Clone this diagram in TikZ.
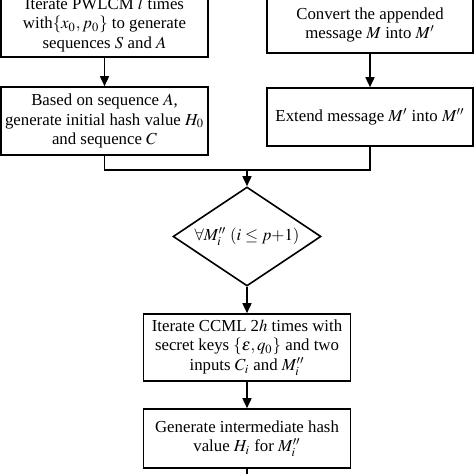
\documentclass[tikz,border=0pt]{standalone}
\usepackage{mathptmx}
\usepackage[no-math]{fontspec}
\setmainfont{Liberation Serif}
\usetikzlibrary{shapes.geometric,arrows.meta}

\begin{document}
\begin{tikzpicture}[x=0.5pt,y=-0.5pt,
  box/.style={draw,line width=0.8pt,align=center,inner sep=0pt,font=\fontsize{8.4}{9.8}\selectfont},
  link/.style={line width=0.8pt},
  arr/.style={link,-{Triangle[length=5pt,width=4.5pt]}}]

\useasboundingbox (0,0) rectangle (474,474);
\clip (0,0) rectangle (474,474);

\node[box,minimum width=103.5pt,minimum height=32pt] (pwlcm) at (104.5,25)
  {Iterate PWLCM $l$ times\\ with$\{x_0,p_0\}$ to generate\\ sequences $S$ and $A$};
\node[box,minimum width=103.5pt,minimum height=34pt] (hash) at (104.5,121)
  {Based on sequence $A$,\\ generate initial hash value $H_0$\\ and sequence $C$};

\node[box,minimum width=103pt,minimum height=28pt] (conv) at (370,25)
  {Convert the appended\\ message $M$ into $M'$};
\node[box,minimum width=103pt,minimum height=29pt] (ext) at (370,117)
  {Extend message $M'$ into $M''$};

\node[box,shape=diamond,aspect=1.5,minimum width=74pt,minimum height=49.5pt] (loop) at (247,236.5)
  {$\forall M_i''\;(i\leq p{+}1)$};

\node[box,minimum width=103.5pt,minimum height=33.5pt] (ccml) at (247,347.5)
  {Iterate CCML 2$h$ times with\\ secret keys $\{\varepsilon,q_0\}$ and two\\ inputs $C_i$ and $M_i''$};
\node[box,minimum width=103.5pt,minimum height=29.5pt] (gen) at (247,438.5)
  {Generate intermediate hash\\ value $H_i$ for $M_i''$};

\coordinate (join) at (247,170);
\coordinate (out) at (247,490);

\draw[arr] (pwlcm.south) -- (hash.north);
\draw[arr] (conv.south) -- (ext.north);
\draw[link] (hash.south) |- (join);
\draw[link] (ext.south) |- (join);
\draw[arr] (join) -- (loop.north);
\draw[arr] (loop.south) -- (ccml.north);
\draw[arr] (ccml.south) -- (gen.north);
\draw[link] (gen.south) -- (out);

\end{tikzpicture}
\end{document}
